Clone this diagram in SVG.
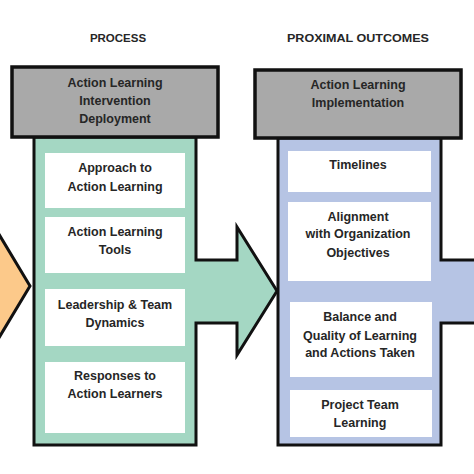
<svg xmlns="http://www.w3.org/2000/svg" width="474" height="474" viewBox="0 0 474 474">
<style>
.t{font-family:"Liberation Sans",Arial,sans-serif;font-weight:bold;font-size:12.5px;fill:#262626;text-anchor:middle}
.h{font-size:11.5px}
.shape{stroke:#111;stroke-width:3;stroke-linejoin:miter}
.hdr{fill:#a9a9a9;stroke:#111;stroke-width:3.5}
.box{fill:#ffffff}
</style>
<rect width="474" height="474" fill="#ffffff"/>
<g id="connectors">
<polygon id="input-arrow" class="shape" fill="#fcc98a" points="-6,226 30,286 -6,346"/>
</g>
<g id="process">
<text class="t h" x="118" y="42">PROCESS</text>
<polygon class="shape" fill="#a4d7c3" points="34,137 196,137 196,260 237,260 237,227 277,291 237,355 237,323 196,323 196,445 34,445"/>
<rect class="hdr" x="12" y="67" width="206" height="70"/>
<text class="t" x="115" y="87">Action Learning</text>
<text class="t" x="115" y="105">Intervention</text>
<text class="t" x="115" y="123">Deployment</text>
<g id="p1"><rect class="box" x="45" y="153" width="140" height="55"/>
<text class="t" x="115" y="172">Approach to</text>
<text class="t" x="115" y="191">Action Learning</text></g>
<g id="p2"><rect class="box" x="45" y="217" width="140" height="56"/>
<text class="t" x="115" y="236">Action Learning</text>
<text class="t" x="115" y="254">Tools</text></g>
<g id="p3"><rect class="box" x="45" y="289" width="140" height="57"/>
<text class="t" x="115" y="309">Leadership &amp; Team</text>
<text class="t" x="115" y="327">Dynamics</text></g>
<g id="p4"><rect class="box" x="45" y="362" width="140" height="71"/>
<text class="t" x="115" y="380">Responses to</text>
<text class="t" x="115" y="398">Action Learners</text></g>
</g>
<g id="outcomes">
<text class="t h" x="358" y="42" textLength="142" lengthAdjust="spacingAndGlyphs">PROXIMAL OUTCOMES</text>
<polygon class="shape" fill="#b6c4e4" points="278,138 441,138 441,260 480,260 480,323 441,323 441,445 278,445"/>
<rect class="hdr" x="255" y="70" width="206" height="68"/>
<text class="t" x="358" y="89">Action Learning</text>
<text class="t" x="358" y="107">Implementation</text>
<g id="o1"><rect class="box" x="288" y="151" width="143" height="41"/>
<text class="t" x="358" y="169">Timelines</text></g>
<g id="o2"><rect class="box" x="288" y="202" width="143" height="79"/>
<text class="t" x="358" y="221">Alignment</text>
<text class="t" x="358" y="238">with Organization</text>
<text class="t" x="358" y="257">Objectives</text></g>
<g id="o3"><rect class="box" x="290" y="302" width="142" height="75"/>
<text class="t" x="360" y="321">Balance and</text>
<text class="t" x="360" y="340">Quality of Learning</text>
<text class="t" x="360" y="357">and Actions Taken</text></g>
<g id="o4"><rect class="box" x="290" y="390" width="142" height="47"/>
<text class="t" x="360" y="409">Project Team</text>
<text class="t" x="360" y="427">Learning</text></g>
</g>
</svg>
